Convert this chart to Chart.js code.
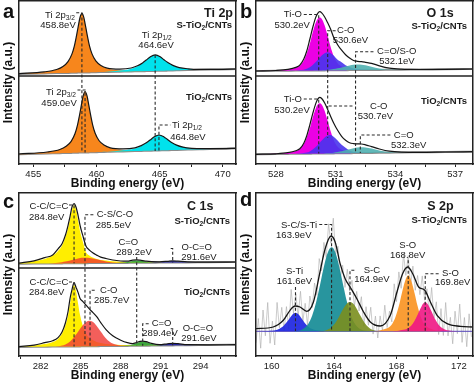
<!DOCTYPE html>
<html><head><meta charset="utf-8">
<script src="https://cdn.jsdelivr.net/npm/chart.js@4.4.1/dist/chart.umd.min.js"></script>
<style>
html,body{margin:0;padding:0;background:#fff;overflow:hidden;}
#wrap{position:relative;width:474px;height:384px;}
.p{position:absolute;width:237px;height:192px;}
canvas{display:block;}
</style></head><body>
<div id="wrap">
<div class="p" style="left:0;top:0"><canvas id="ca" width="237" height="192"></canvas></div>
<div class="p" style="left:237px;top:0"><canvas id="cb" width="237" height="192"></canvas></div>
<div class="p" style="left:0;top:192px"><canvas id="cc" width="237" height="192"></canvas></div>
<div class="p" style="left:237px;top:192px"><canvas id="cd" width="237" height="192"></canvas></div>
</div>
<script>
// ---------------- DATA ----------------
// Panel a: Ti 2p
const aTopX = [453.87,455.85,456.85,457.35,457.75,458.05,458.25,458.4,458.55,458.7,458.85,459.0,459.15,459.3,459.45,459.65,459.95,460.35,460.85,461.85,462.75,463.25,463.65,463.95,464.25,464.65,465.05,465.35,465.65,466.05,466.55,467.25,468.15,469.65,471.05];
const aTopBase = [90.0,90.6,90.9,91.0,91.1,91.2,91.3,91.3,91.4,91.4,91.4,91.5,91.5,91.6,91.6,91.7,91.8,91.9,92.0,92.3,92.6,92.7,92.8,92.9,93.0,93.1,93.3,93.3,93.4,93.6,93.7,93.9,94.2,94.6,95.0];
const aTopTi32 = [0.3,1.5,3.6,6.5,11.3,18.4,26.6,35.5,45.6,55.1,59.2,55.1,45.6,35.5,26.6,18.4,11.3,6.5,3.6,1.5,0.7,0.5,0.3,0.2,0.1,0,0,0,0,0,0,0,0,0,0];
const aTopTi12 = [0,0,0,0,0,0,0,0,0,0,0,0,0,0,0,0,0,0.1,0.3,1.1,2.7,5.0,8.0,10.9,13.9,16,13.9,10.9,8.0,5.0,2.7,1.3,0.5,0.1,0];
const aTopEnv = [0.3,1.5,3.6,6.5,11.3,18.4,26.6,35.5,45.6,55.1,59.2,55.1,45.6,35.5,26.6,18.4,11.3,6.6,3.9,2.6,3.4,5.5,8.3,11.1,14.0,16,13.9,10.9,8.0,5.0,2.7,1.3,0.5,0.1,0];
const aBotX = [453.87,456.1,457.1,457.6,458.0,458.3,458.5,458.65,458.8,458.95,459.1,459.25,459.4,459.55,459.7,459.9,460.2,460.6,461.1,462.1,463.05,463.55,463.95,464.25,464.55,464.95,465.35,465.65,465.95,466.35,466.85,467.55,468.45,469.95,471.05];
const aBotBase = [9.7,10.5,10.8,11.0,11.1,11.3,11.3,11.4,11.4,11.5,11.5,11.6,11.6,11.7,11.7,11.8,11.9,12.1,12.2,12.6,12.9,13.1,13.2,13.3,13.4,13.6,13.7,13.8,13.9,14.1,14.3,14.5,14.8,15.3,15.7];
const aBotTi32 = [0.3,1.5,3.7,6.7,11.6,18.9,27.5,36.6,47.0,56.7,61,56.7,47.0,36.6,27.5,18.9,11.6,6.7,3.7,1.5,0.7,0.5,0.3,0.2,0.1,0,0,0,0,0,0,0,0,0,0];
const aBotTi12 = [0,0,0,0,0,0,0,0,0,0,0,0,0,0,0,0,0,0.1,0.3,1.1,2.6,4.8,7.7,10.5,13.4,15.4,13.4,10.5,7.7,4.8,2.6,1.2,0.5,0,0];
const aBotEnv = [0.3,1.5,3.7,6.7,11.6,18.9,27.5,36.6,47.0,56.7,61,56.7,47.0,36.6,27.5,18.9,11.6,6.8,4.0,2.6,3.3,5.3,8.0,10.7,13.5,15.4,13.4,10.5,7.7,4.8,2.6,1.2,0.5,0,0];

// Panel b: O 1s
const bX = [527.0,528.0,528.6,529.0,529.2,529.4,529.55,529.7,529.85,530.0,530.1,530.2,530.3,530.45,530.6,530.75,530.9,531.1,531.3,531.5,531.7,531.9,532.1,532.3,532.5,532.8,533.2,533.7,534.3,535.2,536.5,537.9];
const bTopBase = [93.0,93.2,93.3,93.4,93.4,93.4,93.5,93.5,93.5,93.6,93.6,93.6,93.6,93.6,93.7,93.7,93.7,93.8,93.8,93.8,93.9,93.9,93.9,94.0,94.0,94.1,94.1,94.2,94.3,94.5,94.7,95.0];
const bTopTiO = [0,0.3,1.3,2.9,4.8,10.1,17,26.5,38.2,47.7,51.7,53,51.7,45,34.5,23.3,14.3,6.9,3.7,2.1,1.3,0.9,0.6,0.3,0.1,0,0,0,0,0,0,0];
const bTopCO = [0,0,0,0.2,0.5,0.9,1.8,3.2,5.6,8.5,10.4,12.6,14.8,17.1,18,17.1,14.8,10.4,8,5,3,1.5,0.6,0.2,0,0,0,0,0,0,0,0];
const bTopSO = [0,0,0,0,0,0,0,0,0,0.1,0.15,0.2,0.25,0.4,0.55,0.8,1.2,1.9,2.75,3.7,4.7,5.3,5.5,5.3,4.7,3.2,1.5,0.4,0.1,0,0,0];
const bTopEnv = [0,0.3,1.3,3.2,5.5,11.5,19.5,31,43,53,57,58.7,57.5,53.4,47.5,41,33,25.5,20,15.5,12,9.6,8.8,8.3,7.7,6.6,4,1.6,0.5,0,0,0];
const bBotBase = [9.7,9.9,10.1,10.2,10.2,10.3,10.3,10.3,10.4,10.4,10.4,10.5,10.5,10.5,10.6,10.6,10.6,10.7,10.7,10.8,10.8,10.9,10.9,11.0,11.0,11.1,11.2,11.3,11.5,11.7,12.0,12.3];
const bBotTiO = [0,0.3,1.2,2.7,4.5,9.6,16.1,25.1,36.2,45.2,49,50.2,49,42.6,32.7,22.1,13.5,6.5,3.5,2.0,1.2,0.9,0.6,0.3,0.1,0,0,0,0,0,0,0];
const bBotCO = [0,0,0,0.1,0.3,0.6,1.1,2.2,4.0,6.6,8.6,10.7,12.9,16,18,18.3,16.6,12.9,8.6,5.5,2.8,1.2,0.5,0.2,0,0,0,0,0,0,0,0];
const bBotCeqO = [0,0,0,0,0,0,0,0,0,0,0,0,0,0.2,0.35,0.5,0.75,1.3,2.0,2.9,3.9,4.9,5.6,5.8,5.6,4.5,2.4,0.75,0.2,0,0,0];
const bBotEnv = [0,0.3,1.2,3.0,5.0,10.5,18,28.5,40,50,54.5,56.2,55,50.5,44,37,30.5,23,17,13,10.5,9.5,9.2,9.0,8.2,6.3,3.8,1.5,0.4,0,0,0];

// Panel c: C 1s
const cX = [280.37,281.5,282.3,282.9,283.3,283.6,283.85,284.05,284.2,284.35,284.5,284.65,284.8,284.95,285.15,285.4,285.65,285.9,286.2,286.5,286.9,287.4,288.0,288.5,288.9,289.2,289.45,289.65,289.9,290.3,290.9,291.5,291.9,292.3,293.0,294.5,296.65];
const cTopBase = [92.3,92.4,92.5,92.6,92.6,92.6,92.7,92.7,92.7,92.7,92.7,92.8,92.8,92.8,92.8,92.8,92.9,92.9,92.9,92.9,93.0,93.0,93.1,93.1,93.2,93.2,93.2,93.3,93.3,93.3,93.4,93.4,93.5,93.5,93.6,93.7,94.0];
const cTopCC = [0.5,2.4,4.5,7.8,12.5,18,26,35,44,53.4,58,53.4,42.6,31.9,22,11,7.5,5.5,4,3.0,2.5,1.7,1.2,0.9,0.7,0.6,0.5,0.4,0.4,0.3,0.2,0.2,0.1,0.1,0,0,0];
const cTopCS = [0,0,0.05,0.24,0.6,1.1,1.7,2.3,2.8,3.3,3.8,4.3,4.7,5.1,5.4,5.5,5.2,4.7,3.8,2.8,1.6,0.6,0.14,0,0,0,0,0,0,0,0,0,0,0,0,0,0];
const cTopCeqO = [0,0,0,0,0,0,0,0,0,0,0,0,0,0,0,0,0,0,0,0,0,0,0.2,1.0,1.9,2.2,2.0,1.6,1.0,0.3,0,0,0,0,0,0,0];
const cTopOCO = [0,0,0,0,0,0,0,0,0,0,0,0,0,0,0,0,0,0,0,0,0,0,0,0,0,0,0,0,0,0,0.2,1.1,1.5,1.1,0.15,0,0];
const cTopEnv = [0.6,2.8,5.9,8.5,14.6,19.7,28,38,47,56.5,59.6,56,47.9,37.9,28,17,13,10.3,8,6,4.5,3.0,1.9,1.7,2.7,2.9,2.6,2.1,1.5,1.0,0.8,1.3,1.7,1.3,0.5,0.2,0];
const cBotBase = [9.0,9.2,9.3,9.4,9.4,9.5,9.5,9.5,9.5,9.6,9.6,9.6,9.6,9.6,9.7,9.7,9.7,9.8,9.8,9.9,9.9,10.0,10.1,10.1,10.2,10.2,10.3,10.3,10.3,10.4,10.5,10.6,10.6,10.7,10.8,11.0,11.3];
const cBotCC = [0.3,1.4,2.6,4.6,7.7,12.9,20.9,31.3,43,55.5,61.4,55.5,43,31.3,20.9,12.9,8.3,6.1,4.2,3.1,2.2,1.5,1.0,0.8,0.6,0.5,0.4,0.4,0.3,0.3,0.2,0.2,0.1,0.1,0,0,0];
const cBotCO = [0,0,0,0.1,0.4,1.0,2.1,3.6,5.1,7.0,9.3,11.9,14.7,17.6,21.1,24.4,25.6,24.4,20.2,14.7,7.7,2.4,0.4,0,0,0,0,0,0,0,0,0,0,0,0,0,0];
const cBotCeqO = [0,0,0,0,0,0,0,0,0,0,0,0,0,0,0,0,0,0,0,0,0,0,0,0.3,1.4,2.7,3.7,4.0,3.6,1.8,0.2,0,0,0,0,0,0];
const cBotOCO = [0,0,0,0,0,0,0,0,0,0,0,0,0,0,0,0,0,0,0,0,0,0,0,0,0,0,0,0,0,0,0.25,1.3,1.8,1.3,0.2,0,0];
const cBotEnv = [0.4,1.7,4,5.8,9,14.5,23.5,35,48,57,63.7,59,54,48,45,41.2,37.4,33.8,29.5,23.5,16.5,10.2,5.7,3.2,2.2,3.3,4.3,4.5,4.0,2.2,0.8,1.6,2.1,1.6,0.5,0.2,0];

// Panel d: S 2p
const dX = [159.0,159.8,160.3,160.7,161.0,161.2,161.4,161.55,161.7,161.9,162.1,162.35,162.6,162.85,163.1,163.3,163.5,163.7,163.85,164.0,164.2,164.4,164.6,164.8,165.0,165.2,165.45,165.7,166.0,166.35,166.75,167.2,167.6,167.9,168.15,168.35,168.55,168.75,168.95,169.15,169.35,169.55,169.7,169.85,170.0,170.2,170.45,170.75,171.1,171.6,172.2,172.9];
const dBase = [24.7,24.7,24.7,24.7,24.7,24.7,24.7,24.7,24.7,24.7,24.7,24.7,24.7,24.7,24.7,24.7,24.7,24.7,24.7,24.7,24.7,24.7,24.7,24.7,24.7,24.7,24.7,24.7,24.7,24.7,24.7,24.7,24.7,24.7,24.7,24.7,24.7,24.7,24.7,24.7,24.7,24.7,24.7,24.7,24.7,24.7,24.7,24.7,24.7,24.7,24.7,24.7];
const dSTi = [0,0.4,1.3,4.5,9.7,14.1,17.9,18.6,17.3,13.4,8.9,4.6,2.2,1.1,0.5,0.2,0,0,0,0,0,0,0,0,0,0,0,0,0,0,0,0,0,0,0,0,0,0,0,0,0,0,0,0,0,0,0,0,0,0,0,0];
const dSCSTi = [0,0,0,0,0,0,0.1,0.3,0.6,1.4,3.2,7.6,15.9,29.1,46.4,61.3,74.1,82.2,84,81.7,73,59.8,45,31,19.6,11.3,5.1,2.0,0.5,0.1,0,0,0,0,0,0,0,0,0,0,0,0,0,0,0,0,0,0,0,0,0,0];
const dSC = [0,0,0,0,0,0,0,0,0,0,0,0,0,0,0.2,0.4,1.1,2.5,4.2,6.7,11.3,17,22.8,27.4,29.3,28,22.6,15.2,7.5,2.4,0.4,0,0,0,0,0,0,0,0,0,0,0,0,0,0,0,0,0,0,0,0,0];
const dSO1 = [0,0,0,0,0,0,0,0,0,0,0,0,0,0,0,0,0,0,0,0,0,0,0,0,0,0,0,0,0,0,0.4,2.0,5.0,12.9,25.2,38.6,50.4,56,50.4,38.6,25.2,14.6,9.0,6.2,3.9,2.5,1.1,0.4,0,0,0,0];
const dSO2 = [0,0,0,0,0,0,0,0,0,0,0,0,0,0,0,0,0,0,0,0,0,0,0,0,0,0,0,0,0,0,0,0,0,0.2,0.6,1.2,1.7,3.2,5.8,10.2,16.5,23.2,27.6,29,27,21.2,12.8,5.5,1.9,0.4,0,0];
const dEnvX = [159.0,160.1,160.75,161.18,161.5,161.82,162.25,162.68,163.1,163.43,163.81,164.07,164.39,164.71,165.03,165.46,165.89,166.32,166.96,167.6,168.03,168.39,168.72,169.04,169.42,169.81,170.17,170.6,171.24,172.1,172.9];
const dEnvY = [27.3,29,35.7,45.7,50,49,44.7,54,84,107.3,120,114,92.3,77.3,69,57.3,44,34,30,40.7,64,82.3,89,82.3,69,65.7,54,40.7,32.3,29.7,29];
const dRawX = [159.0,159.15,159.3,159.45,159.6,159.75,159.9,160.05,160.2,160.35,160.5,160.65,160.8,160.95,161.1,161.25,161.4,161.55,161.7,161.85,162.0,162.15,162.3,162.45,162.6,162.75,162.9,163.05,163.2,163.35,163.5,163.65,163.8,163.95,164.1,164.25,164.4,164.55,164.7,164.85,165.0,165.15,165.3,165.45,165.6,165.75,165.9,166.05,166.2,166.35,166.5,166.65,166.8,166.95,167.1,167.25,167.4,167.55,167.7,167.85,168.0,168.15,168.3,168.45,168.6,168.75,168.9,169.05,169.2,169.35,169.5,169.65,169.8,169.95,170.1,170.25,170.4,170.55,170.7,170.85,171.0,171.15,171.3,171.45,171.6,171.75,171.9,172.05,172.2,172.35,172.5,172.65,172.8];
const dRawY = [13.3,37.5,7.8,46.0,20.2,53.5,12.7,34.9,11.0,53.6,28.1,48.7,24.9,49.4,26.8,66.6,42.7,61.9,39.4,64.7,34.2,52.7,30.8,60.0,48.3,73.0,60.7,97.4,85.1,113.6,98.5,132.2,112.7,137.8,102.0,109.8,77.8,90.8,68.6,86.7,64.8,75.7,49.7,64.6,45.0,59.3,29.8,49.3,30.8,48.8,21.9,39.9,18.0,40.1,25.3,50.8,28.4,44.9,34.1,72.2,54.4,84.1,67.7,102.5,80.6,100.4,70.2,89.9,65.7,80.5,61.3,80.1,55.8,67.2,42.3,68.5,37.9,54.2,21.4,47.4,20.5,53.5,20.1,38.7,12.2,44.8,22.3,51.9,13.6,38.5,9.3,42.2,19.1];

// ---------------- ANNOTATIONS (data coordinates) ----------------
const annA = [
 {x:458.3,y:149,t:'Ti 2p_{3/2}',a:'right'},{x:456.96,y:139,t:'458.8eV',a:'center'},
 {x:464.77,y:129,t:'Ti 2p_{1/2}',a:'center'},{x:464.72,y:119,t:'464.6eV',a:'center'},
 {x:458.38,y:72,t:'Ti 2p_{3/2}',a:'right'},{x:457.04,y:61,t:'459.0eV',a:'center'},
 {x:465.98,y:39,t:'Ti 2p_{1/2}',a:'left'},{x:467.25,y:27,t:'464.8eV',a:'center'},
 {x:470.81,y:150,t:'Ti 2p',a:'right',s:12.5,b:1},
 {x:470.73,y:138.5,t:'S-TiO_{2}/CNTs',a:'right',s:9.5,b:1},
 {x:470.73,y:67,t:'TiO_{2}/CNTs',a:'right',s:9.5,b:1}];
const leadA = [[[458.4,151.3],[458.85,151.3],[458.85,11.5]],[[464.65,109],[464.65,13.1]],[[458.5,74],[459.1,74],[459.1,11.5]],[[464.95,13.6],[464.95,39],[465.85,39]]];
const annB = [
 {x:529.31,y:150,t:'Ti-O',a:'right'},{x:528.82,y:139,t:'530.2eV',a:'center'},
 {x:531.07,y:133.3,t:'C-O',a:'left'},{x:531.74,y:124,t:'530.6eV',a:'center'},
 {x:533.08,y:112.3,t:'C=O/S-O',a:'left'},{x:534.08,y:102.3,t:'532.1eV',a:'center'},
 {x:536.93,y:150,t:'O 1s',a:'right',s:12.5,b:1},
 {x:537.6,y:137.3,t:'S-TiO_{2}/CNTs',a:'right',s:9.5,b:1},
 {x:529.31,y:64.7,t:'Ti-O',a:'right'},{x:528.81,y:54,t:'530.2eV',a:'center'},
 {x:532.73,y:58,t:'C-O',a:'left'},{x:533.0,y:47.3,t:'530.7eV',a:'center'},
 {x:533.92,y:29,t:'C=O',a:'left'},{x:534.67,y:19,t:'532.3eV',a:'center'},
 {x:537.6,y:62.3,t:'TiO_{2}/CNTs',a:'right',s:9.5,b:1}];
const leadB = [[[529.4,149.5],[530.15,149.5],[530.15,93.6]],[[531.0,133.3],[530.6,133.3],[530.6,26]],[[532.9,112.3],[532.0,112.3],[532.0,10.9]],[[529.4,65],[530.15,65],[530.15,10.5]],[[530.65,58],[531.9,58]],[[533.75,29],[532.24,29],[532.24,11]]];
const annC = [
 {x:284.07,y:150,t:'C-C/C=C',a:'right'},{x:282.45,y:139,t:'284.8eV',a:'center'},
 {x:286.2,y:141.3,t:'C-S/C-O',a:'left'},{x:287.45,y:130.7,t:'285.5eV',a:'center'},
 {x:288.57,y:114,t:'C=O',a:'center'},{x:289.0,y:104,t:'289.2eV',a:'center'},
 {x:292.57,y:109,t:'O-C=O',a:'left'},{x:293.87,y:99,t:'291.6eV',a:'center'},
 {x:294.95,y:149,t:'C 1s',a:'right',s:12.5,b:1},
 {x:296.2,y:134.7,t:'S-TiO_{2}/CNTs',a:'right',s:9.5,b:1},
 {x:284.07,y:73.3,t:'C-C/C=C',a:'right'},{x:282.45,y:63.3,t:'284.8eV',a:'center'},
 {x:286.45,y:65.7,t:'C-O',a:'left'},{x:287.32,y:55.7,t:'285.7eV',a:'center'},
 {x:290.32,y:32.3,t:'C=O',a:'left'},{x:290.95,y:22.3,t:'289.4eV',a:'center'},
 {x:292.65,y:27.3,t:'O-C=O',a:'left'},{x:293.87,y:17.3,t:'291.6eV',a:'center'},
 {x:296.2,y:64,t:'TiO_{2}/CNTs',a:'right',s:9.5,b:1}];
const leadC = [[[284.12,151],[284.5,151],[284.5,92.7]],[[285.95,141.3],[285.32,141.3],[285.32,9.7]],[[289.2,99],[289.2,10.2]],[[291.75,107.5],[291.9,107.5],[291.9,93.5]],[[284.12,74],[284.5,74],[284.5,9.6]],[[286.05,65.7],[285.7,65.7],[285.7,9.7]],[[290.1,32.3],[289.65,32.3],[289.65,10.3]],[[291.75,27.3],[291.9,27.3],[291.9,10.6]]];
const annD = [
 {x:162.91,y:130.7,t:'S-C/S-Ti',a:'right'},{x:161.42,y:120.7,t:'163.9eV',a:'center'},
 {x:161.47,y:84.7,t:'S-Ti',a:'center'},{x:161.46,y:74.7,t:'161.6eV',a:'center'},
 {x:165.9,y:85.7,t:'S-C',a:'left'},{x:166.43,y:76.7,t:'164.9eV',a:'center'},
 {x:168.72,y:110.7,t:'S-O',a:'center'},{x:168.72,y:100.7,t:'168.8eV',a:'center'},
 {x:170.92,y:82.3,t:'S-O',a:'left'},{x:171.6,y:73.3,t:'169.8eV',a:'center'},
 {x:171.66,y:149,t:'S 2p',a:'right',s:12.5,b:1},
 {x:172.52,y:135.7,t:'S-TiO_{2}/CNTs',a:'right',s:9.5,b:1}];
const leadD = [[[163.05,131.5],[163.84,131.5],[163.84,25]],[[161.53,69],[161.53,25]],[[165.3,85.7],[165.02,85.7],[165.02,25]],[[168.75,95.7],[168.75,25]],[[170.7,82.3],[169.84,82.3],[169.84,25]]];

// ---------------- BUILD ----------------
const FONT = '"Liberation Sans", Arial, Helvetica, sans-serif';
const pts = (xs, ys) => xs.map((x, i) => ({x: x, y: ys[i]}));
const NONE = 'rgba(0,0,0,0)';
function curve(xs, ys, extra) {
  return Object.assign({data: pts(xs, ys), cubicInterpolationMode: 'monotone', pointRadius: 0, fill: false}, extra);
}
function spectrum(list, key, xs, base, comps, env, showBase) {
  if (showBase) list.push(curve(xs, base, {stack: key + 'bl', borderColor: '#8c8c8c', borderWidth: 2, order: 90}));
  comps.forEach((c, i) => {
    list.push(curve(xs, base, {stack: key + i, borderColor: NONE, borderWidth: 0, order: 80 - i}));
    list.push(curve(xs, c[0], {stack: key + i, fill: '-1', backgroundColor: c[1], borderColor: NONE, borderWidth: 0, order: 80 - i}));
  });
  if (env) {
    list.push(curve(xs, base, {stack: key + 'e', borderColor: NONE, borderWidth: 0, order: 20}));
    list.push(curve(xs, env, {stack: key + 'e', borderColor: '#151515', borderWidth: 1.2, order: 20}));
  }
}
function leaders(list, segs) {
  segs.forEach(s => list.push({data: s.map(p => ({x: p[0], y: p[1]})), yAxisID: 'yl', borderColor: '#2a2a2a', borderWidth: 1.1, borderDash: [3, 2.2], pointRadius: 0, fill: false, order: 10}));
}
function divider(list, min, max) {
  list.push({data: [{x: min, y: 88}, {x: max, y: 88}], yAxisID: 'yl', borderColor: '#222', borderWidth: 1.5, pointRadius: 0, fill: false, order: 5});
}
function richText(ctx, text, x, y, align, size, bold) {
  const parts = []; const re = /_\{([^}]*)\}/g; let last = 0, m;
  while ((m = re.exec(text))) {
    if (m.index > last) parts.push({t: text.slice(last, m.index), sub: false});
    parts.push({t: m[1], sub: true}); last = re.lastIndex;
  }
  if (last < text.length) parts.push({t: text.slice(last), sub: false});
  const w = bold ? 'bold ' : '';
  const fN = w + size + 'px ' + FONT, fS = w + (size * 0.7).toFixed(1) + 'px ' + FONT;
  let total = 0;
  parts.forEach(p => { ctx.font = p.sub ? fS : fN; p.w = ctx.measureText(p.t).width; total += p.w; });
  let cx = align === 'right' ? x - total : (align === 'center' ? x - total / 2 : x);
  ctx.textAlign = 'left'; ctx.textBaseline = 'middle'; ctx.fillStyle = '#1a1a1a';
  parts.forEach(p => { ctx.font = p.sub ? fS : fN; ctx.fillText(p.t, cx, p.sub ? y + size * 0.3 : y); cx += p.w; });
}
function annotPlugin(items, letter) {
  return {
    id: 'annot',
    afterDatasetsDraw(chart) {
      const ctx = chart.ctx, sx = chart.scales.x, sy = chart.scales.y;
      ctx.save();
      items.forEach(it => richText(ctx, it.t, sx.getPixelForValue(it.x), sy.getPixelForValue(it.y), it.a, it.s || 9.5, it.b));
      ctx.font = 'bold 20px ' + FONT; ctx.fillStyle = '#111'; ctx.textAlign = 'left'; ctx.textBaseline = 'alphabetic';
      ctx.fillText(letter.t, letter.x, letter.y);
      ctx.restore();
    }
  };
}
function build(id, conf) {
  const isMajor = v => Math.abs(v / conf.major - Math.round(v / conf.major)) < 1e-6;
  const bord = {display: true, color: '#222', width: 1.5, z: 1};
  return new Chart(document.getElementById(id), {
    type: 'line',
    data: {datasets: conf.datasets},
    options: {
      responsive: false, animation: false, events: [],
      layout: {padding: 0},
      elements: {point: {radius: 0, hoverRadius: 0}, line: {tension: 0}},
      plugins: {legend: {display: false}, tooltip: {enabled: false}},
      scales: {
        x: {type: 'linear', position: 'bottom', min: conf.min, max: conf.max,
            afterFit: s => { s.height = 28; },
            ticks: {stepSize: conf.minor, includeBounds: false, autoSkip: false, maxRotation: 0, minRotation: 0, padding: 2,
                    color: '#222', font: {family: FONT, size: 9.5}, callback: v => isMajor(v) ? String(Math.round(v)) : ''},
            grid: {display: true, drawOnChartArea: false, drawTicks: true, tickLength: 3, color: '#222', lineWidth: 1},
            border: bord,
            title: {display: true, text: 'Binding energy (eV)', color: '#111', font: {family: FONT, size: 12, weight: 'bold'}, padding: {top: 0, bottom: 1}}},
        xt: {type: 'linear', position: 'top', min: conf.min, max: conf.max, afterFit: s => { s.height = 1; },
             ticks: {display: false}, grid: {display: false, drawTicks: false}, border: bord},
        y: {type: 'linear', position: 'left', min: 0, max: 163, stacked: true, afterFit: s => { s.width = 19; },
            ticks: {display: false}, grid: {display: false, drawTicks: false}, border: bord,
            title: {display: true, text: 'Intensity (a.u.)', color: '#111', font: {family: FONT, size: 12, weight: 'bold'}, padding: {top: 1, bottom: 0}}},
        yr: {type: 'linear', position: 'right', min: 0, max: 163, afterFit: s => { s.width = 1; },
             ticks: {display: false}, grid: {display: false, drawTicks: false}, border: bord},
        yl: {type: 'linear', display: false, min: 0, max: 163}
      }
    },
    plugins: [annotPlugin(conf.labels, conf.letter)]
  });
}

// Panel a
const dsA = [];
spectrum(dsA, 'at', aTopX, aTopBase, [[aTopTi32, 'rgb(247,134,28)'], [aTopTi12, 'rgb(0,226,236)']], aTopEnv, true);
spectrum(dsA, 'ab', aBotX, aBotBase, [[aBotTi32, 'rgb(247,134,28)'], [aBotTi12, 'rgb(0,226,236)']], aBotEnv, true);
leaders(dsA, leadA); divider(dsA, 453.87, 471.05);
build('ca', {min: 453.87, max: 471.05, major: 5, minor: 2.5, datasets: dsA, labels: annA, letter: {t: 'a', x: 3, y: 18.3}});

// Panel b
const dsB = [];
spectrum(dsB, 'bt', bX, bTopBase, [[bTopTiO, 'rgb(236,0,228)'], [bTopCO, 'rgba(72,52,236,0.9)'], [bTopSO, 'rgba(80,176,176,0.9)']], bTopEnv, true);
spectrum(dsB, 'bb', bX, bBotBase, [[bBotTiO, 'rgb(236,0,228)'], [bBotCO, 'rgba(72,52,236,0.9)'], [bBotCeqO, 'rgba(80,176,176,0.9)']], bBotEnv, true);
leaders(dsB, leadB); divider(dsB, 527.0, 537.9);
build('cb', {min: 527.0, max: 537.9, major: 3, minor: 1.5, datasets: dsB, labels: annB, letter: {t: 'b', x: 3, y: 17.5}});

// Panel c
const dsC = [];
spectrum(dsC, 'ct', cX, cTopBase, [[cTopCC, 'rgb(255,238,0)'], [cTopCS, 'rgba(240,60,45,0.82)'], [cTopCeqO, 'rgb(62,166,62)'], [cTopOCO, 'rgb(40,40,190)']], cTopEnv, true);
spectrum(dsC, 'cb', cX, cBotBase, [[cBotCC, 'rgb(255,238,0)'], [cBotCO, 'rgba(240,60,55,0.82)'], [cBotCeqO, 'rgb(62,166,62)'], [cBotOCO, 'rgb(40,40,190)']], cBotEnv, true);
leaders(dsC, leadC); divider(dsC, 280.37, 296.65);
build('cc', {min: 280.37, max: 296.65, major: 3, minor: 1.5, datasets: dsC, labels: annC, letter: {t: 'c', x: 3, y: 15.5}});

// Panel d
const dsD = [];
dsD.push(curve(dRawX, dRawY, {yAxisID: 'yl', borderColor: 'rgba(170,170,170,0.75)', borderWidth: 0.8, cubicInterpolationMode: 'default', order: 100}));
dsD.push({data: [{x: 159.0, y: 24.7}, {x: 172.9, y: 24.7}], yAxisID: 'yl', borderColor: 'rgba(100,85,190,0.9)', borderWidth: 1.3, pointRadius: 0, fill: false, order: 85});
spectrum(dsD, 'd', dX, dBase, [[dSTi, 'rgba(32,40,225,0.93)'], [dSCSTi, 'rgba(22,140,150,0.92)'], [dSC, 'rgba(122,142,30,0.9)'], [dSO1, 'rgba(250,152,42,0.95)'], [dSO2, 'rgba(240,22,132,0.9)']], null, false);
dsD.push(curve(dEnvX, dEnvY, {yAxisID: 'yl', borderColor: '#151515', borderWidth: 1.3, order: 20}));
leaders(dsD, leadD);
build('cd', {min: 159.0, max: 172.9, major: 4, minor: 2, datasets: dsD, labels: annD, letter: {t: 'd', x: 3, y: 14}});
</script>
</body></html>
